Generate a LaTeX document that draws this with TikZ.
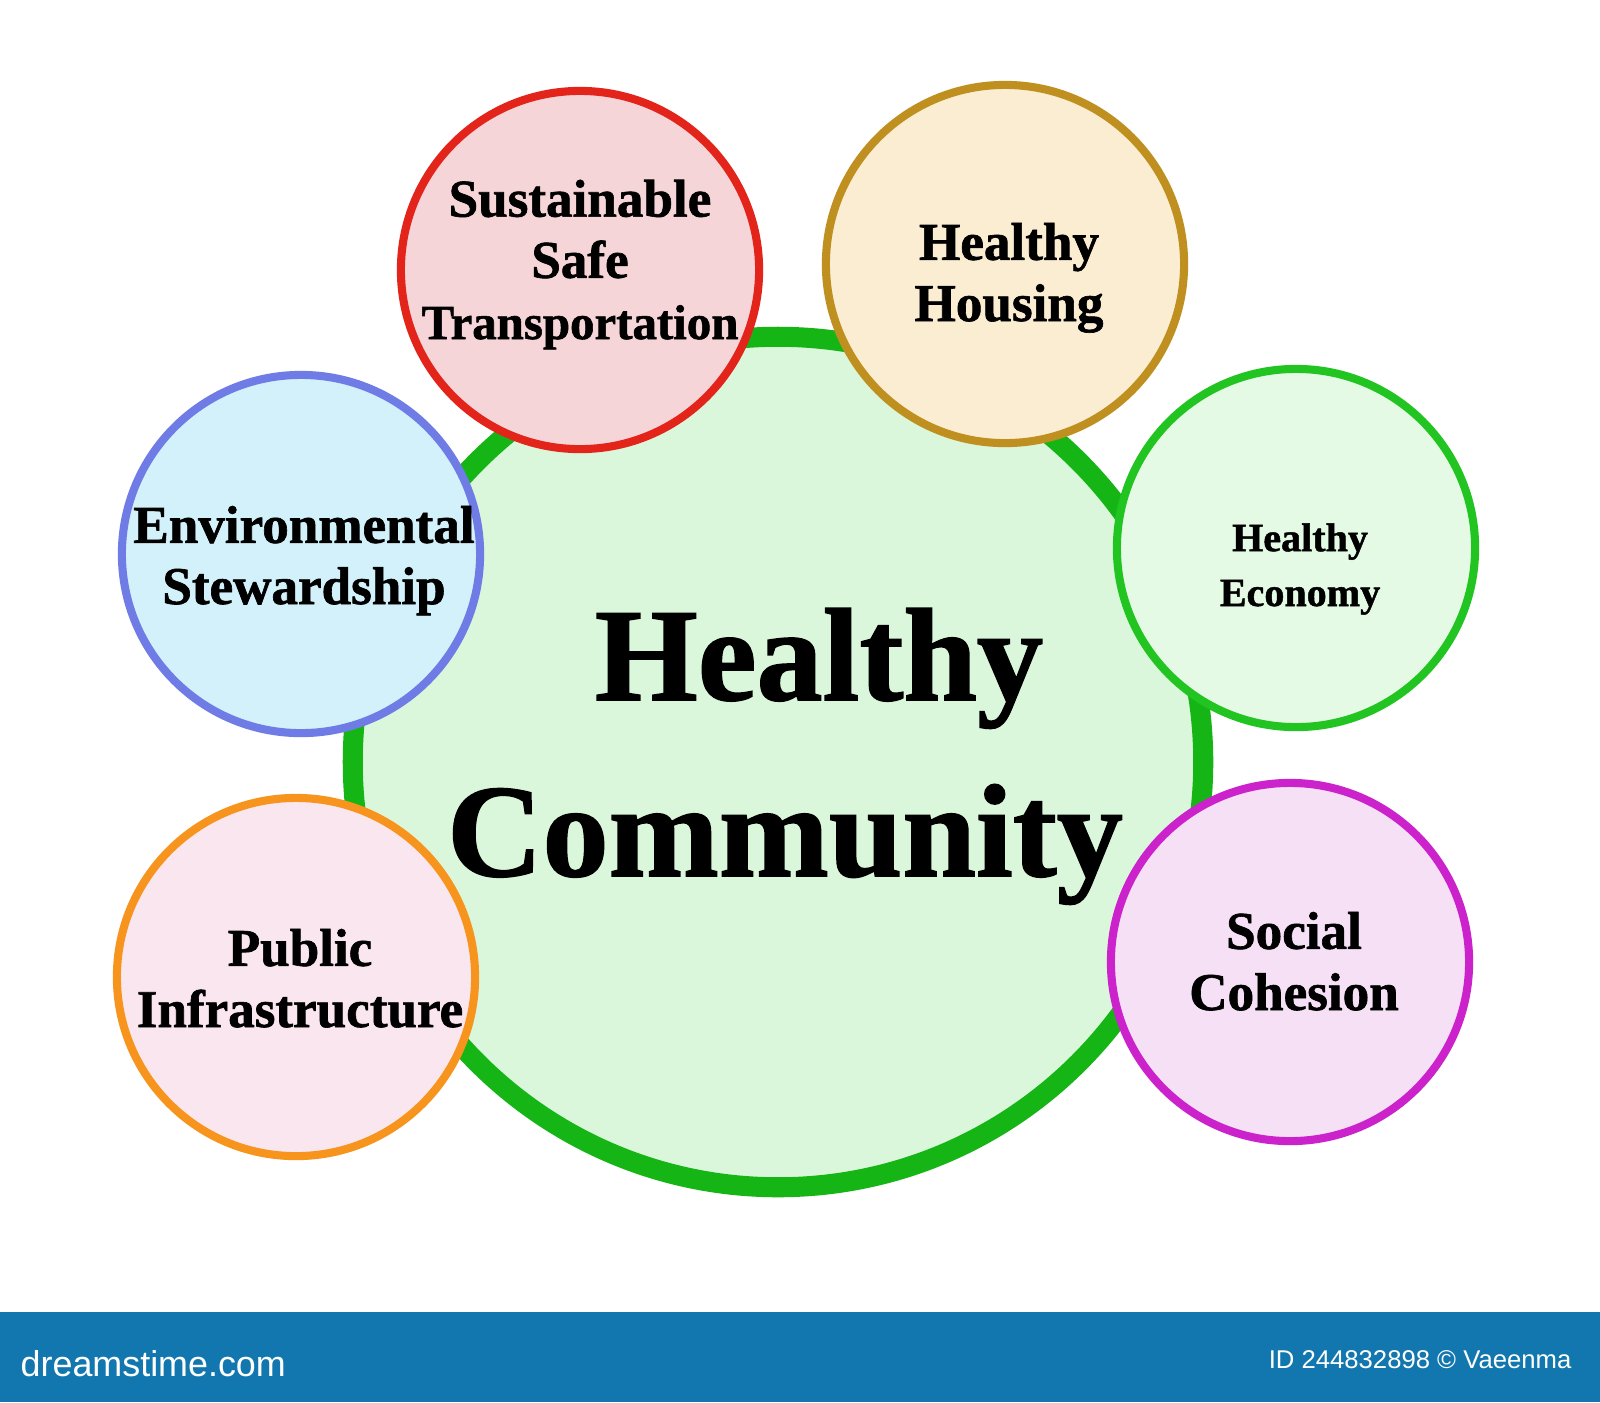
\documentclass[tikz,border=0pt]{standalone}
\usepackage{fontspec}
\setmainfont{Liberation Serif}[BoldFeatures={FakeBold=1.2}]
\newfontfamily\sansf{Liberation Sans}
\definecolor{bigline}{HTML}{16B516}
\definecolor{bigfill}{HTML}{DBF7DB}
\definecolor{redline}{HTML}{E3241B}
\definecolor{redfill}{HTML}{F6D5D9}
\definecolor{goldline}{HTML}{BF8F1F}
\definecolor{goldfill}{HTML}{FBEDD2}
\definecolor{blueline}{HTML}{707CE6}
\definecolor{bluefill}{HTML}{D3F1FA}
\definecolor{greenline}{HTML}{22C422}
\definecolor{greenfill}{HTML}{E4FAE4}
\definecolor{orangeline}{HTML}{F7941D}
\definecolor{orangefill}{HTML}{FAE6EE}
\definecolor{magline}{HTML}{CC22CC}
\definecolor{magfill}{HTML}{F5E0F5}
\definecolor{banner}{HTML}{1177AE}
\tikzset{
  ring/.style={circle, draw, line width=2.3pt, inner sep=0pt, minimum size=3.58cm},
  bigring/.style={circle, draw=bigline, fill=bigfill, line width=5.7pt, inner sep=0pt, minimum size=8.5cm},
  lbl/.style={align=center, anchor=base, inner sep=0pt, font=\fontsize{15.1pt}{17.4pt}\selectfont\bfseries},
  biglbl/.style={anchor=base, inner sep=0pt, font=\fontsize{37.6pt}{50pt}\selectfont\bfseries},
}
\begin{document}
\begin{tikzpicture}[x=0.01cm, y=-0.01cm]
\useasboundingbox (0,0) rectangle (1600,1402);
\fill[white] (0,0) rectangle (1600,1402);
% central circle
\node[bigring] (core) at (778,762) {};
% satellite circles
\node[ring, draw=redline, fill=redfill] (sst) at (580,270) {};
\node[ring, draw=goldline, fill=goldfill] (hh) at (1005,264) {};
\node[ring, draw=blueline, fill=bluefill] (es) at (301,554) {};
\node[ring, draw=greenline, fill=greenfill] (he) at (1296,548) {};
\node[ring, draw=orangeline, fill=orangefill] (pi) at (296,977) {};
\node[ring, draw=magline, fill=magfill] (sc) at (1290,962) {};
% labels (anchor = baseline of the last line)
\node[biglbl] (t1) at (819,700) {Healthy};
\node[biglbl] (t2) at (785,876) {Community};
\node[lbl] (lsst) at (580,339) {Sustainable\\Safe\\{\fontsize{13.9pt}{17.4pt}\selectfont Transportation}};
\node[lbl] (lhh) at (1009,321) {Healthy\\Housing};
\node[lbl] (les) at (304,604) {Environmental\\Stewardship};
\node[lbl, font=\fontsize{11.4pt}{15.6pt}\selectfont\bfseries] (lhe) at (1300,606) {Healthy\\Economy};
\node[lbl] (lpi) at (300,1027) {Public\\Infrastructure};
\node[lbl] (lsc) at (1294,1010) {Social\\Cohesion};
% banner
\fill[banner] (0,1312) rectangle (1600,1402);
\node[anchor=west, text=white, inner sep=0pt, font=\sansf\fontsize{10.2pt}{12pt}\selectfont] (dm) at (20,1364) {dreamstime.com};
\node[anchor=east, text=white, inner sep=0pt, font=\sansf\fontsize{7.3pt}{9pt}\selectfont] (idt) at (1572,1360) {ID 244832898 © Vaeenma};
\end{tikzpicture}
\end{document}
